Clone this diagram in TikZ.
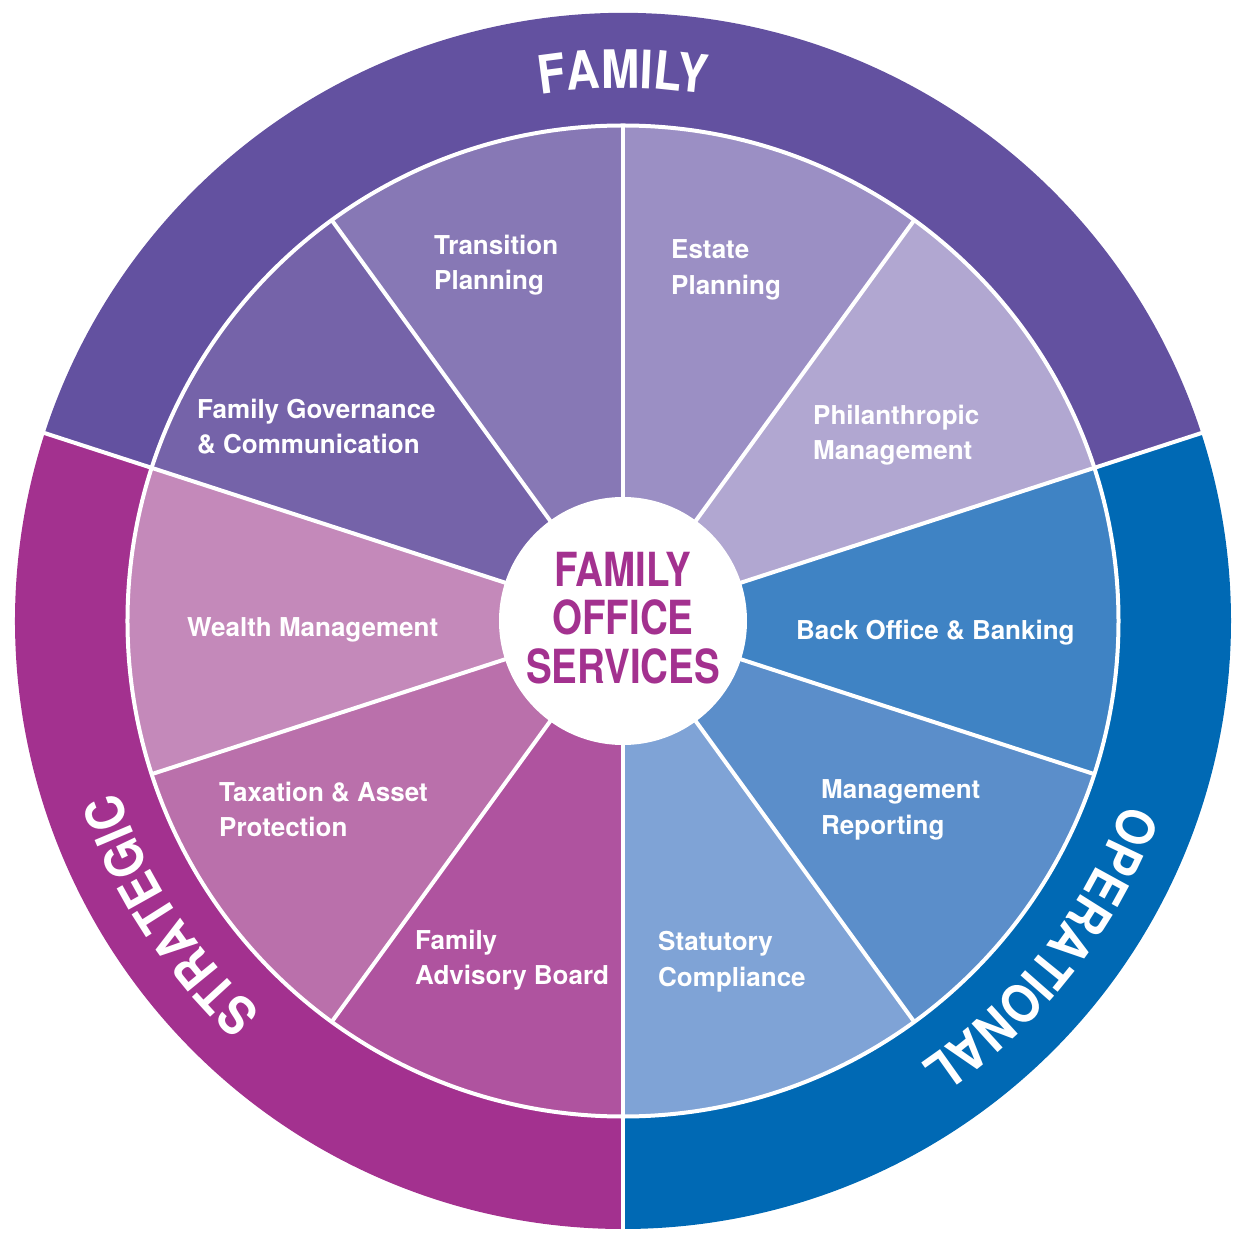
\documentclass[tikz,border=0pt]{standalone}
\usepackage{fontspec}
\setmainfont{TeX Gyre Heros}
\newfontfamily\ringfont{TeX Gyre Heros}[FakeStretch=0.87]
\newfontfamily\hubfont{TeX Gyre Heros}[FakeStretch=0.82]
\usetikzlibrary{decorations.text}
\definecolor{ringfam}{HTML}{6351A0}
\definecolor{ringstr}{HTML}{A3318F}
\definecolor{ringops}{HTML}{0069B4}
\definecolor{cEstate}{HTML}{9B8FC4}
\definecolor{cPhil}{HTML}{B1A7D1}
\definecolor{cBack}{HTML}{3F83C4}
\definecolor{cMgmt}{HTML}{5B8ECA}
\definecolor{cStat}{HTML}{7FA3D6}
\definecolor{cFAB}{HTML}{AF539F}
\definecolor{cTax}{HTML}{BA70AB}
\definecolor{cWealth}{HTML}{C489BA}
\definecolor{cGov}{HTML}{7563A9}
\definecolor{cTrans}{HTML}{8778B5}
\definecolor{hubtxt}{HTML}{A3318F}
\begin{document}
\begin{tikzpicture}[
  sep/.style={white, line width=4pt},
  lbl/.style={anchor=north west, inner sep=0pt, align=left, text=white,
    font=\bfseries\fontsize{26}{35.5}\selectfont},
  ringtext/.style={decorate, decoration={text along path, text align=center,
    text color=white, text={|\ringfont\bfseries\fontsize{53}{60}\selectfont|#1}}}
]
\useasboundingbox (-623pt,-626pt) rectangle (623pt,621pt);
% outer ring
\fill[ringfam] (18:608pt) arc[start angle=18,end angle=162,radius=608pt]
  -- (162:490pt) arc[start angle=162,end angle=18,radius=490pt] -- cycle;
\fill[ringstr] (162:608pt) arc[start angle=162,end angle=270,radius=608pt]
  -- (270:490pt) arc[start angle=270,end angle=162,radius=490pt] -- cycle;
\fill[ringops] (270:608pt) arc[start angle=270,end angle=378,radius=608pt]
  -- (378:490pt) arc[start angle=378,end angle=270,radius=490pt] -- cycle;
% sectors
\foreach \a/\c in {90/cEstate,54/cPhil,18/cBack,-18/cMgmt,-54/cStat,-90/cFAB,-126/cTax,-162/cWealth,162/cGov,126/cTrans}{
  \fill[\c] (0,0) -- (\a:496pt) arc[start angle=\a,end angle=\a-36,radius=496pt] -- cycle;
}
% separators
\foreach \a in {90,54,18,-18,-54,-90,-126,-162,162,126}{
  \draw[sep] (0,0) -- (\a:495pt);
}
\foreach \a in {18,162,270}{
  \draw[sep] (\a:494pt) -- (\a:612pt);
}
\draw[sep] (0,0) circle[radius=495.5pt];
% ring texts
\path[ringtext={FAMI{LY}}] (150:533pt) arc[start angle=150,end angle=30,radius=533pt];
\path[ringtext=STRATEGIC] (-87:533pt) arc[start angle=-87,end angle=-207,radius=533pt];
\path[ringtext=OPERATIONAL] (22:533pt) arc[start angle=22,end angle=-98,radius=533pt];
% hub
\node[circle, fill=white, minimum size=248pt, inner sep=0pt] (hub) at (0,0) {};
\node[anchor=north, inner sep=0pt, align=center, text=hubtxt,
  font=\hubfont\bfseries\fontsize{47}{48.5}\selectfont] (hubtext) at (0pt,69pt)
  {FAMILY\\OFFICE\\SERVICES};
% labels
\node[lbl] (trans) at (-189pt,386.5pt) {Transition\\Planning};
\node[lbl] (estate) at (48pt,381.5pt) {Estate\\Planning};
\node[lbl] (phil) at (190pt,216.5pt) {Philanthropic\\Management};
\node[lbl] (gov) at (-426pt,222.5pt) {Family Governance\\\& Communication};
\node[lbl] (wealth) at (-436pt,3.5pt) {Wealth Management};
\node[lbl] (back) at (173pt,1pt) {Back Office \& Banking};
\node[lbl] (tax) at (-404pt,-160.5pt) {Taxation \& Asset\\Protection};
\node[lbl] (mgmt) at (198pt,-158.5pt) {Management\\Reporting};
\node[lbl] (fab) at (-208pt,-308.5pt) {Family\\Advisory Board};
\node[lbl] (stat) at (35pt,-310.5pt) {Statutory\\Compliance};
\end{tikzpicture}
\end{document}
